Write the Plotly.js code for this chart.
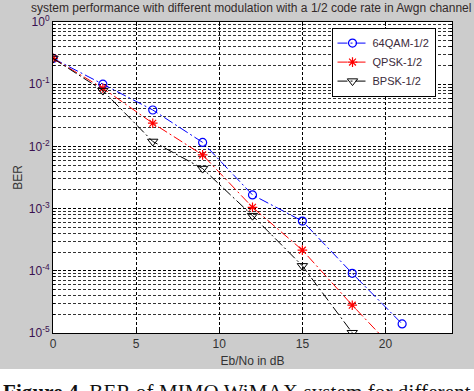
<!DOCTYPE html>
<html>
<head>
<meta charset="utf-8">
<script src="https://cdn.plot.ly/plotly-3.0.1.min.js"></script>
<style>
html, body { margin:0; padding:0; background:#ffffff; width:474px; height:391px; overflow:hidden; }
#chart { position:absolute; left:0; top:0; width:474px; height:369px; }
#caption { position:absolute; left:3px; top:380px; white-space:nowrap; font-family:"Liberation Serif","DejaVu Serif",serif; font-size:21px; letter-spacing:0.1px; color:#111; }
</style>
</head>
<body>
<div id="chart"></div>
<div id="caption"><b>Figure 4.</b> BER of MIMO WiMAX system for different</div>
<script>
// Eb/No (dB)
var ebno = [0, 3, 6, 9, 12, 15, 18, 21];
var ebnoBpsk = [0, 3, 6, 9, 12, 15, 18];
// BER values
var ber64qam = [0.26, 0.10, 0.0385, 0.0116, 0.00166, 0.00063, 0.000091, 0.000014];
var berQpsk  = [0.26, 0.086, 0.0236, 0.0073, 0.00105, 0.000215, 0.000028, 0.000004];
var berBpsk  = [0.26, 0.079, 0.012, 0.0044, 0.00077, 0.00012, 0.0000101];
var seriesNames = ['64QAM-1/2', 'QPSK-1/2', 'BPSK-1/2'];
var yTickVals = [1, 0.1, 0.01, 0.001, 0.0001, 0.00001];
var yTickText = ['10<sup>0</sup>', '10<sup>-1</sup>', '10<sup>-2</sup>', '10<sup>-3</sup>', '10<sup>-4</sup>', '10<sup>-5</sup>'];
var xTickVals = [0, 5, 10, 15, 20];

var dashStyle = '10px,3px,2px,3px';
var traces = [
  { x: ebno, y: ber64qam, name: seriesNames[0], mode: 'lines+markers',
    line: { color: '#0000ff', width: 1, dash: dashStyle },
    marker: { symbol: 'circle-open', size: 8, color: '#0000ff', line: { width: 1.2 } } },
  { x: ebno, y: berQpsk, name: seriesNames[1], mode: 'lines+markers',
    line: { color: '#ff0000', width: 1, dash: dashStyle },
    marker: { symbol: 'asterisk-open', size: 8, color: '#ff0000', line: { width: 1.2, color: '#ff0000' } } },
  { x: ebnoBpsk, y: berBpsk, name: seriesNames[2], mode: 'lines+markers',
    line: { color: '#000000', width: 1, dash: dashStyle },
    marker: { symbol: 'triangle-down-open', size: 9, color: '#000000', line: { width: 1 } } }
];

var gridDash = '3px,2px';
var layout = {
  width: 474, height: 369,
  paper_bgcolor: '#cccccc', plot_bgcolor: '#ffffff',
  margin: { l: 53, r: 22, t: 22, b: 36 },
  font: { family: 'Liberation Sans, Arial, sans-serif', size: 12, color: '#222' },
  title: { text: 'system performance with different modulation with a 1/2 code rate in Awgn channel',
           x: 0.53, xref: 'container', xanchor: 'center', y: 0.98, yref: 'container', yanchor: 'middle',
           font: { size: 12, color: '#332a2a' } },
  showlegend: true,
  legend: { x: 0.698, y: 0.982, xanchor: 'left', yanchor: 'top', bgcolor: '#ffffff',
            bordercolor: '#000000', borderwidth: 1, font: { size: 11, color: '#3a2a3a' },
            tracegroupgap: 0, itemwidth: 30 },
  xaxis: { range: [0, 24], tickvals: xTickVals, showline: true, mirror: 'ticks', linecolor: '#000', linewidth: 1,
           ticks: 'inside', ticklen: 4, tickcolor: '#000',
           showgrid: true, gridcolor: '#000', griddash: gridDash, gridwidth: 1, zeroline: false,
           tickfont: { size: 12, color: '#333' },
           title: { text: 'Eb/No in dB', standoff: 6, font: { size: 12, color: '#333' } } },
  yaxis: { type: 'log', range: [-5, 0], tickvals: yTickVals, ticktext: yTickText,
           showline: true, mirror: 'ticks', linecolor: '#000', linewidth: 1,
           ticks: 'inside', ticklen: 4, tickcolor: '#000',
           showgrid: true, gridcolor: '#000', griddash: gridDash, gridwidth: 1, zeroline: false,
           tickfont: { size: 12, color: '#3a1050' },
           minor: { dtick: 'D1', showgrid: true, gridcolor: '#333', griddash: gridDash, gridwidth: 1,
                    ticks: 'inside', ticklen: 2, tickcolor: '#000' },
           title: { text: 'BER', standoff: 3, font: { size: 12, color: '#333' } } }
};

Plotly.newPlot('chart', traces, layout, { displayModeBar: false, staticPlot: true });
</script>
</body>
</html>
